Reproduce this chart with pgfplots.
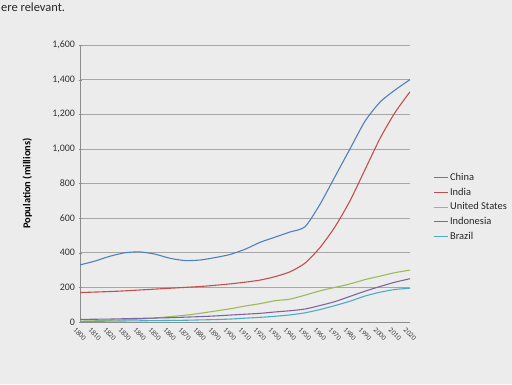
\documentclass[border=0pt]{standalone}
\usepackage{pgfplots}
\pgfplotsset{compat=1.18}
\usepackage{fontspec}
\setmainfont{Carlito}
\definecolor{cChina}{HTML}{4F81BD}
\definecolor{cIndia}{HTML}{C0504D}
\definecolor{cUS}{HTML}{9BBB59}
\definecolor{cIndo}{HTML}{8064A2}
\definecolor{cBrazil}{HTML}{4BACC6}
\definecolor{bgc}{HTML}{ECECEC}
\begin{document}
\begin{tikzpicture}[x=1bp,y=1bp]
\fill[bgc] (0,0) rectangle (512,384);
\node[anchor=north west,inner sep=1bp,font=\fontsize{12.5}{13}\selectfont,text=black!85] at (0,382) {ere relevant.};
\begin{axis}[
  at={(80bp,62bp)}, anchor=south west,
  scale only axis, width=330bp, height=277bp,
  xmin=1800, xmax=2020, ymin=0, ymax=1600,
  xtick={1800,1810,...,2020},
  ytick={0,200,...,1600},
  /pgf/number format/assume math mode=true,
  /pgf/number format/1000 sep={,},
  x tick label style={/pgf/number format/1000 sep={}, rotate=-45, anchor=north west, inner sep=0pt, yshift=-5bp, font=\fontsize{7.2}{8}\selectfont, text=black!75},
  y tick label style={font=\fontsize{10}{11}\selectfont, text=black!80},
  axis x line=bottom, axis y line=left,
  axis line style={black!45, -},
  ymajorgrids, grid style={black!35, line width=0.6pt},
  major tick length=3bp,
  xtick style={draw=none},
  ytick style={black!45},
  ylabel={\textbf{Population (millions)}},
  ylabel style={font=\fontsize{10.5}{11}\selectfont, at={(axis description cs:-0.135,0.5)}},
  legend style={at={(1.06,0.415)}, anchor=west, draw=none, fill=none, font=\fontsize{10.5}{11}\selectfont, row sep=2bp, text=black!85},
  legend cell align=left,
  legend image code/.code={\draw[#1] (0bp,0bp) -- (14bp,0bp);},
  every axis plot/.append style={line width=1.1pt, smooth, tension=0.4, mark=none},
]
\addplot[cChina] coordinates {(1800,330) (1810,352) (1820,380) (1830,400) (1840,405) (1850,392) (1860,368) (1870,355) (1880,358) (1890,372) (1900,390) (1910,420) (1920,460) (1930,490) (1940,520) (1950,550) (1960,680) (1970,840) (1980,1000) (1990,1160) (2000,1270) (2010,1340) (2020,1400)};
\addplot[cIndia] coordinates {(1800,170) (1810,173) (1820,176) (1830,180) (1840,185) (1850,190) (1860,195) (1870,200) (1880,205) (1890,212) (1900,220) (1910,230) (1920,242) (1930,262) (1940,290) (1950,340) (1960,430) (1970,550) (1980,700) (1990,880) (2000,1060) (2010,1210) (2020,1330)};
\addplot[cUS] coordinates {(1800,5) (1810,7) (1820,10) (1830,13) (1840,17) (1850,23) (1860,31) (1870,39) (1880,50) (1890,63) (1900,76) (1910,92) (1920,106) (1930,123) (1940,132) (1950,155) (1960,180) (1970,200) (1980,220) (1990,245) (2000,265) (2010,285) (2020,300)};
\addplot[cIndo] coordinates {(1800,15) (1810,16) (1820,17) (1830,19) (1840,21) (1850,23) (1860,25) (1870,28) (1880,31) (1890,35) (1900,40) (1910,45) (1920,50) (1930,58) (1940,65) (1950,75) (1960,95) (1970,118) (1980,148) (1990,178) (2000,205) (2010,230) (2020,250)};
\addplot[cBrazil] coordinates {(1800,3) (1810,4) (1820,5) (1830,6) (1840,7) (1850,8) (1860,9) (1870,10) (1880,12) (1890,14) (1900,17) (1910,22) (1920,27) (1930,33) (1940,41) (1950,53) (1960,72) (1970,95) (1980,120) (1990,150) (2000,172) (2010,188) (2020,195)};
\legend{China,India,United States,Indonesia,Brazil}
\end{axis}
\end{tikzpicture}
\end{document}
